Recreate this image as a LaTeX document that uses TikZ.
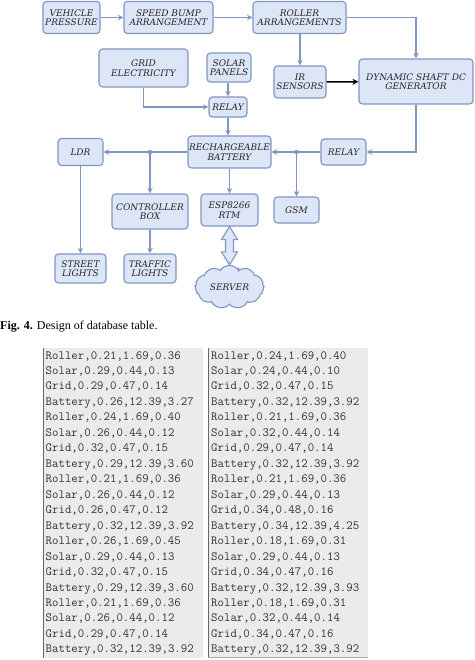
\documentclass[tikz,border=0pt]{standalone}
\usepackage{fontspec}
\setmainfont{Liberation Serif}
\newfontfamily\boxfont{DejaVu Serif}
\usetikzlibrary{arrows.meta,shapes.symbols,calc}
\definecolor{boxfill}{HTML}{DCE6F6}
\definecolor{boxline}{HTML}{7F95C2}
\definecolor{tablegray}{HTML}{EBEBEB}
\definecolor{tabletext}{HTML}{333333}
\begin{document}
\begin{tikzpicture}[x=1pt,y=-1pt,
  blk/.style={draw=boxline, fill=boxfill, line width=1.1pt, rounded corners=3.5pt,
    align=center, inner sep=1pt, text=black!85,
    font=\boxfont\itshape\fontsize{9}{9.5}\selectfont},
  conn/.style={draw=boxline, line width=1.2pt, -{Stealth[length=5.5pt,width=5.5pt]}},
  darkconn/.style={draw=black, line width=1.5pt, -{Stealth[length=6pt,width=6pt]}},
  junc/.style={fill=boxline},
  rowtext/.style={anchor=base west, inner sep=0pt, text=tabletext,
    font=\ttfamily\fontsize{12.5}{14}\selectfont}
]
\useasboundingbox (0,0) rectangle (474,660);

% ---- diagram nodes ----
\node[blk, minimum width=57pt, minimum height=32pt] (veh) at (71.5,17.5) {VEHICLE\\PRESSURE};
\node[blk, minimum width=89pt, minimum height=32pt] (bump) at (168.5,17.5) {SPEED BUMP\\ARRANGEMENT};
\node[blk, minimum width=93pt, minimum height=32pt] (roller) at (299.5,17.5) {ROLLER\\ARRANGEMENTS};
\node[blk, minimum width=89pt, minimum height=38pt] (grid) at (143.5,68) {GRID\\ELECTRICITY};
\node[blk, minimum width=44pt, minimum height=29pt] (solar) at (229,67.5) {SOLAR\\PANELS};
\node[blk, minimum width=38pt, minimum height=20pt] (relaya) at (228,107) {RELAY};
\node[blk, minimum width=52pt, minimum height=32pt] (ir) at (300,82) {IR\\SENSORS};
\node[blk, minimum width=114pt, minimum height=45pt] (gen) at (416,81.5) {DYNAMIC SHAFT DC\\GENERATOR};
\node[blk, minimum width=83pt, minimum height=32pt] (batt) at (229.5,152) {RECHARGEABLE\\BATTERY};
\node[blk, minimum width=45pt, minimum height=27pt] (ldr) at (80.5,152) {LDR};
\node[blk, minimum width=45pt, minimum height=26pt] (relayb) at (343.5,152) {RELAY};
\node[blk, minimum width=76pt, minimum height=35pt] (ctrl) at (150,211.5) {CONTROLLER\\BOX};
\node[blk, minimum width=57pt, minimum height=32pt] (esp) at (229.5,210) {ESP8266\\RTM};
\node[blk, minimum width=45pt, minimum height=26pt] (gsm) at (296.5,210) {GSM};
\node[blk, minimum width=51pt, minimum height=29pt] (street) at (80.5,268.5) {STREET\\LIGHTS};
\node[blk, minimum width=52pt, minimum height=29pt] (traffic) at (150,268.5) {TRAFFIC\\LIGHTS};
\node[blk, cloud, cloud puffs=11, aspect=1.7, inner sep=0pt, minimum width=68pt, minimum height=40pt] (server) at (229.5,287) {SERVER};

% ---- connectors ----
\draw[conn] (veh) -- (bump);
\draw[conn] (bump) -- (roller);
\draw[conn] (roller.east) -| (gen.north);
\draw[conn] (ir.north |- roller.south) -- (ir.north);
\draw[darkconn] (ir) -- (gen);
\draw[conn] (grid.south) |- (relaya.west);
\draw[conn] (relaya.north |- solar.south) -- (relaya.north);
\draw[conn] (relaya.south) -- (relaya.south |- batt.north);
\draw[conn] (gen.south) |- (relayb.east);
\coordinate (ja) at (gsm.north |- batt.east);
\draw[conn] (relayb.west) -- (batt.east);
\fill[junc] (ja) circle (2.2pt);
\draw[conn] (ja) -- (gsm.north);
\coordinate (jb) at (ctrl.north |- batt.west);
\draw[conn] (batt.west) -- (ldr.east);
\fill[junc] (jb) circle (2.2pt);
\draw[conn] (jb) -- (ctrl.north);
\draw[conn] (ldr) -- (street);
\draw[conn] (ctrl) -- (traffic);
\draw[conn] (batt) -- (esp);
% hollow double arrow between ESP8266 and SERVER
\coordinate (da) at (esp.south);
\coordinate (db) at (esp.south |- server.north);
\draw[draw=boxline, fill=boxfill, line width=1.1pt, line join=miter]
  (da) -- ($(da)+(8,13)$) -- ($(da)+(4,13)$) -- ($(db)+(4,-13)$) -- ($(db)+(8,-13)$)
  -- (db) -- ($(db)+(-8,-13)$) -- ($(db)+(-4,-13)$) -- ($(da)+(-4,13)$) -- ($(da)+(-8,13)$) -- cycle;

% ---- caption ----
\node[anchor=base west, inner sep=0pt, font=\fontsize{12}{14}\selectfont] (cap) at (0,329)
  {\textbf{Fig. 4.} Design of database table.};

% ---- table panels ----
\fill[tablegray] (43,348) rectangle (203,658);
\fill[tablegray] (208,348) rectangle (368,658);
\draw[black!60, line width=1.2pt] (43.6,348) -- (43.6,658);
\draw[black!60, line width=1.2pt] (208.6,348) -- (208.6,658);
\draw[black!35, line width=0.8pt] (208,657.6) -- (368,657.6);

\foreach \t [count=\i] in {{Roller,0.21,1.69,0.36},{Solar,0.29,0.44,0.13},{Grid,0.29,0.47,0.14},{Battery,0.26,12.39,3.27},
  {Roller,0.24,1.69,0.40},{Solar,0.26,0.44,0.12},{Grid,0.32,0.47,0.15},{Battery,0.29,12.39,3.60},
  {Roller,0.21,1.69,0.36},{Solar,0.26,0.44,0.12},{Grid,0.26,0.47,0.12},{Battery,0.32,12.39,3.92},
  {Roller,0.26,1.69,0.45},{Solar,0.29,0.44,0.13},{Grid,0.32,0.47,0.15},{Battery,0.29,12.39,3.60},
  {Roller,0.21,1.69,0.36},{Solar,0.26,0.44,0.12},{Grid,0.29,0.47,0.14},{Battery,0.32,12.39,3.92}}
  \node[rowtext] (l\i) at (45.5,{359+15.47*(\i-1)}) {\t};

\foreach \t [count=\i] in {{Roller,0.24,1.69,0.40},{Solar,0.24,0.44,0.10},{Grid,0.32,0.47,0.15},{Battery,0.32,12.39,3.92},
  {Roller,0.21,1.69,0.36},{Solar,0.32,0.44,0.14},{Grid,0.29,0.47,0.14},{Battery,0.32,12.39,3.92},
  {Roller,0.21,1.69,0.36},{Solar,0.29,0.44,0.13},{Grid,0.34,0.48,0.16},{Battery,0.34,12.39,4.25},
  {Roller,0.18,1.69,0.31},{Solar,0.29,0.44,0.13},{Grid,0.34,0.47,0.16},{Battery,0.32,12.39,3.93},
  {Roller,0.18,1.69,0.31},{Solar,0.32,0.44,0.14},{Grid,0.34,0.47,0.16},{Battery,0.32,12.39,3.92}}
  \node[rowtext] (r\i) at (211,{359+15.47*(\i-1)}) {\t};
\end{tikzpicture}
\end{document}
